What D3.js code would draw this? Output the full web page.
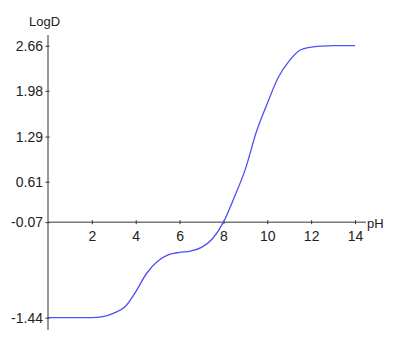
<!DOCTYPE html>
<html>
<head>
<meta charset="utf-8">
<script src="https://cdn.jsdelivr.net/npm/d3@7"></script>
<style>
  body { margin: 0; background: #fff; }
  text { font-family: "Liberation Sans", Arial, sans-serif; fill: #222; }
</style>
</head>
<body>
<svg></svg>
<script>
const width = 402;
const height = 343;

// logD curve
const phValues = [0, 0.5, 1, 1.5, 2, 2.5, 3, 3.5, 4, 4.5, 5, 5.5, 6, 6.5, 7, 7.5, 8, 8.5, 9, 9.5, 10, 10.5, 11, 11.5, 12, 12.5, 13, 13.5, 14];
const logdValues = [-1.44, -1.44, -1.44, -1.44, -1.44, -1.425, -1.37, -1.28, -1.05, -0.77, -0.59, -0.49, -0.455, -0.435, -0.38, -0.25, 0.0, 0.38, 0.80, 1.36, 1.79, 2.18, 2.43, 2.595, 2.64, 2.655, 2.66, 2.66, 2.66];

const xTicks = [2, 4, 6, 8, 10, 12, 14];
const yTickValues = [2.66, 1.98, 1.29, 0.61, 0, -1.44];
const yTickLabels = ['2.66', '1.98', '1.29', '0.61', '-0.07', '-1.44'];

const svg = d3.select('svg')
    .attr('width', width)
    .attr('height', height);

const x = d3.scaleLinear().domain([0, 14]).range([48, 355]);
const y = d3.scaleLinear().domain([-1.44, 2.66]).range([317.7, 45.7]);

const axisColor = '#333';

// x axis, sits at logD = 0
const xAxisG = svg.append('g')
    .attr('transform', `translate(0,${y(0)})`)
    .call(d3.axisBottom(x).tickValues(xTicks).tickSize(0).tickPadding(9));
xAxisG.select('.domain').remove();
xAxisG.selectAll('.tick line').attr('y1', -2).attr('y2', 2).attr('stroke', axisColor);
xAxisG.selectAll('.tick text')
    .attr('font-size', 14)
    .attr('fill', '#222');
xAxisG.append('line')
    .attr('x1', x(0)).attr('x2', 366)
    .attr('stroke', axisColor);

// y axis at pH 0
const yAxisG = svg.append('g')
    .attr('transform', `translate(${x(0)},0)`)
    .call(d3.axisLeft(y).tickValues(yTickValues).tickSize(0).tickPadding(5)
        .tickFormat((d, i) => yTickLabels[i]));
yAxisG.select('.domain').remove();
yAxisG.selectAll('.tick line').attr('x1', -2.5).attr('x2', 1.5).attr('stroke', axisColor);
yAxisG.selectAll('.tick text')
    .attr('font-size', 14)
    .attr('fill', '#222');
yAxisG.append('line')
    .attr('y1', 35).attr('y2', 330)
    .attr('stroke', axisColor);

svg.append('text')
    .attr('x', 29)
    .attr('y', 26)
    .attr('font-size', 13)
    .text('LogD');

svg.append('text')
    .attr('x', 367)
    .attr('y', 227.5)
    .attr('font-size', 13)
    .text('pH');

const points = phValues.map((p, i) => [p, logdValues[i]]);

const line = d3.line()
    .x(d => x(d[0]))
    .y(d => y(d[1]))
    .curve(d3.curveMonotoneX);

svg.append('path')
    .datum(points)
    .attr('d', line)
    .attr('fill', 'none')
    .attr('stroke', '#4f4ff5')
    .attr('stroke-width', 1.3);
</script>
</body>
</html>
